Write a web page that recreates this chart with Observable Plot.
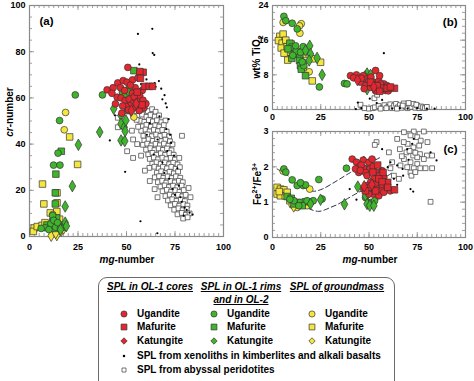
<!DOCTYPE html>
<html><head><meta charset="utf-8">
<script src="https://cdn.jsdelivr.net/npm/d3@7"></script>
<script src="https://cdn.jsdelivr.net/npm/@observablehq/plot@0.6"></script>
<style>
body{margin:0;background:#fff;font-family:'Liberation Sans',Arial,sans-serif;}
#wrap{position:relative;width:474px;height:381px;overflow:hidden;background:#fff;}
.lab{position:absolute;font-weight:bold;font-size:10px;white-space:nowrap;color:#000;line-height:1;}
.rot{transform:translate(-50%,-50%) rotate(-90deg);}
.ctr{transform:translate(-50%,-50%);}
.lab sub,.lab sup{font-size:7px;line-height:0;}
.hdr{font-style:italic;text-decoration:underline;}
#legend{position:absolute;left:98px;top:277px;width:297px;height:118px;border:1.3px solid #6b6b6b;border-radius:9px;box-sizing:border-box;}
svg.mk{position:absolute;overflow:visible;}
</style></head><body><div id="wrap"><div id="legend"></div></div>
<script>
// ---------------- tick labels ----------------
const xTicks = [0, 25, 50, 75, 100];
const aYTicks = [0, 20, 40, 60, 80, 100];
const bYTicks = [0, 8, 16, 24];
const cYTicks = [0, 1, 2, 3];

// ---------------- legend text ----------------
const groupTitles = ["SPL in OL-1 cores", "SPL in OL-1 rims", "SPL of groundmass"];
const rockNames = ["Ugandite", "Mafurite", "Katungite"];
const otherNames = ["SPL from xenoliths in kimberlites and alkali basalts", "SPL from abyssal peridotites"];

// ---------------- panel (a): mg-number vs cr-number ----------------
const a_coreUg = [[50.7,73.2],[40,63.5],[43.1,64.4],[45.5,66.5],[48.3,67.5],[50.3,66.8],[53.1,67.8],[55.9,68.7],[46.9,64.4],[49,63.2],[54.5,64.4],[58.1,63.2],[52,65.5],[45.2,60.3],[47.2,60],[49.3,58.9],[51.4,59.5],[53.4,57.7],[55.5,58.9],[57.2,56.3],[59,55.7],[53.8,55.7],[51.7,56.6],[47.6,53.4],[49.7,56.3],[44.3,57.4],[56.6,54.5],[60,57.5],[42.5,62],[56.8,61],[53,62],[48,56.5],[54,60.5],[58.5,59],[51,54.8]];
const a_coreMa = [[58.6,71.1],[56.9,71.4],[57.2,68.5],[59.3,65],[61.7,65],[63.4,65],[55.5,62.5],[58,57]];
const a_coreKa = [[55,57.5],[52.5,54.5]];
const a_rimUg = [[23.6,61.3],[37.6,61.3],[15.5,50.2],[14.7,36.1],[12.4,30.9],[15.7,30.9],[11.9,9.1],[47.9,62.5],[49.5,61.5],[51.2,62.5],[8,3.8],[11,5.5],[13.5,4],[16,3.8],[6,3.5],[10,3],[12.5,7],[14.5,6]];
const a_rimMa = [[16.4,36.9],[13.6,27],[13.3,18.9],[13.3,14.1],[53.8,71.8],[51.6,58.9],[50.7,54.5],[51.5,63.8],[10.5,4],[13,3.5],[15,5],[12,6.5],[9,5],[14,8],[17,4]];
const a_rimKa = [[25.2,39.7],[22.1,21.8],[18.4,13],[18.4,6],[43.4,55.3],[47.2,52.4],[47.2,48.8],[48.8,47.3],[49.7,50.2],[36.2,45.2],[47.2,41.6],[49.1,41.3],[49.3,45.6],[16,3],[19,4.5]];
const a_gmUg = [[18.6,53.7],[17.9,46.2],[53.8,51.7],[12,9.5],[16,2.5]];
const a_gmMa = [[20.7,43.1],[24.8,31.2],[6.7,22.7],[7.4,14.1],[14.2,18.9],[14.2,14.6],[10.7,10.2],[14.1,10.8],[2.4,3.7],[2,2.2],[4,4.3],[6.5,4.8],[8,6],[12,5],[15.5,7.5]];
const a_gmKa = [[11.2,0.3],[14.1,0.6],[16.4,2.6],[17.6,3.5],[13.5,1.5]];
const a_xeno = [[55.9,87.7],[63.3,89.9],[63.5,79.4],[64.3,78.6],[56.6,74.5],[60.3,68],[64.5,66.4],[66.7,67.3],[65,64.8],[67.9,64],[69.6,61.2],[68.5,59.4],[70.2,57.6],[70.8,55.9],[71.7,50.8],[41.4,41.6],[49.3,28],[57.2,6.6],[65.9,1.4],[67,52],[70.5,46.5],[72.5,44],[73,40.5],[71,37],[74.5,35],[68.5,32],[76.2,29.5],[72,25],[77,22],[75,18],[78.5,15],[80,12.5],[81,11.5],[82.5,10.3],[84.1,9.5],[79.5,9],[62,49],[60.5,44],[66,42],[64,35.5],[69.5,27.5],[73.8,20.5],[77.8,17],[44,52.5],[57.5,66],[61.5,65.8]];
const a_aby = [[56.5,54.6],[58.8,55.2],[61,54.3],[63.2,55.1],[65,54],
[55.8,52.2],[58,52.8],[60.3,51.8],[62.4,52.6],[64.6,51.9],[66.8,52.4],
[57,50.1],[59.2,49.6],[61.5,50.4],[63.6,49.8],[65.7,50.3],[68,49.5],[70.1,50.2],
[58.1,47.7],[60.3,48.3],[62.6,47.5],[64.8,48.1],[66.9,47.6],[69.2,48.2],
[57.6,45.8],[59.8,46.3],[61.9,45.5],[64.1,46.2],[66.2,45.6],[68.5,46.1],[70.7,45.4],
[58.7,43.6],[60.9,44.2],[63.1,43.4],[65.3,44.1],[67.4,43.5],[69.6,44],[72,43.3],
[59.2,41.5],[61.4,42.1],[63.5,41.4],[65.8,42],[68,41.3],[70.1,41.9],[72.4,41.2],
[58.5,39.7],[60.7,40.2],[62.8,39.4],[65,40.1],[67.2,39.5],[69.3,40.2],[71.6,39.3],[73.7,39.9],
[60.1,37.6],[62.3,38.2],[64.4,37.4],[66.6,38.1],[68.8,37.5],[70.9,38.1],[73.2,37.3],
[61.2,35.5],[63.4,36.2],[65.5,35.4],[67.7,36],[69.9,35.3],[72.1,36.1],[74.3,35.4],
[62,33.6],[64.1,34.2],[66.3,33.4],[68.5,34.1],[70.6,33.5],[72.8,34],[75,33.3],[77.2,34],
[63.3,31.5],[65.5,32.1],[67.6,31.4],[69.8,32],[72,31.3],[74.1,31.9],[76.3,31.2],
[61.8,29.7],[64.4,30.2],[66.6,29.4],[68.8,30.1],[70.9,29.5],[73.1,30.1],[75.3,29.3],[77.5,30],
[65.7,27.6],[67.9,28.2],[70.1,27.4],[72.2,28],[74.4,27.3],[76.6,28.1],
[64.6,25.6],[66.8,26.1],[69,25.4],[71.2,26],[73.3,25.3],[75.5,26],[77.7,25.4],
[66.2,23.5],[68.4,24.1],[70.5,23.3],[72.7,24],[74.9,23.4],[77,24.1],[79,23.5],
[67.5,21.6],[69.7,22.1],[71.9,21.4],[74,22],[76.2,21.3],[78.4,22],
[68.6,19.6],[70.8,20.2],[73,19.4],[75.1,20],[77.3,19.3],[79.5,20.1],
[70.1,17.5],[72.3,18.1],[74.4,17.3],[76.6,18],[78.8,17.4],[80.5,18],
[71.4,15.6],[73.6,16.1],[75.8,15.4],[78,16],[80.1,15.3],
[72.8,13.5],[75,14.1],[77.2,13.3],[79.3,14],[81.4,13.4],
[74.6,11.6],[76.8,12.2],[78.9,11.4],[81,12],
[76.3,9.6],[78.5,10.2],[80.6,9.4],[82.5,10],
[79.2,7.8],[81.5,8.3],
[45.5,51.4],[45.5,47.3],[52.8,45.8],[53.4,42],[50.3,36.9],[53.4,34],[78.6,43.6],[55.2,50.5],[53,53.5],[56,47.5],[55.5,40],[57.5,35],[59.5,28.5],[62,24],[64.5,20.5],[66,17],[83,17],[82,21]];

// ---------------- panel (b): mg-number vs wt% TiO2 ----------------
const b_coreUg = [[40.4,7.8],[43.5,8],[47,7.8],[48.7,7],[53.4,9],[45.6,6.3],[49.9,6.6],[52.5,6.3],[55.1,6.6],[48.2,5.5],[50.8,5.1],[54.3,4.9],[56.8,4.7],[57.7,5.9],[51.6,5.9],[56,5.9],[53.4,4.3],[59.4,5.5],[58.5,4.4],[42,7.3],[46,7.2],[51,7.5],[55.5,7.8],[47.5,4.8],[60,4.3]];
const b_coreMa = [[57.3,4.9],[59.4,4.9],[63.2,4.9],[61.1,5.2],[54.2,5.5],[50.8,6.3],[55.5,4.2]];
const b_coreKa = [[44,6.8],[52.5,5.2]];
const b_rimUg = [[5.9,21.5],[6.9,20.5],[10.2,19.9],[12.8,18.6],[15.9,14.5],[14.5,13.2],[16.2,10.1],[24.3,5.2],[15.4,11],[37.3,6],[38.6,5.9],[12,14.7],[10.5,12.5]];
const b_rimMa = [[9,15.3],[10.2,14.4],[8,14],[11.4,12.8],[14.2,12.3],[14,11.3],[14.5,10.1],[14.9,9.3],[17.1,7.8],[12.4,13.4],[10,11.8]];
const b_rimKa = [[19.3,14.7],[17.1,13.6],[19.7,12.8],[23.1,11.9],[25.7,8],[19,11.3],[49,4.7],[49,8.3],[50.8,8],[47.8,7.6]];
const b_gmUg = [[5.5,20.1],[14.9,19.8],[14.2,17.6],[19,8.7],[15.9,10.9],[16.2,9.7],[14,19.3]];
const b_gmMa = [[3.8,16.9],[5.5,17.4],[3.1,15.9],[5,15.3],[4.5,14.2],[6.9,16],[7.6,14.5],[8.5,13.2],[9.7,15.1],[10.2,13.6],[7.9,11.4],[16.2,12.7],[20.6,11.7],[24.9,10.9],[20.6,6.6],[6,13]];
const b_gmKa = [];
const b_xeno = [[57.7,13],[44.2,1.6],[43.2,0.1],[50.4,2.5],[56.8,2.2],[62,0.2],[66,0.3],[70,0.2],[75,0.3],[80,0.2],[84,0.2],[46,0.3],[54,1.5]];
const b_aby = [[45.6,1.1],[52.8,2.6],[54.2,3.4],[47.7,0.3],[50,0.2],[52,0.3],[53,0.5],[55,0.8],[57,0.4],[58,1],[60,0.6],[61,1.2],[62,0.3],[63,0.9],[64,1.3],[65,0.5],[66,1],[67,0.4],[68,1.4],[69,0.7],[70,0.3],[71,1.1],[72,0.6],[73,1.3],[74,0.4],[75,0.9],[76,0.3],[77,0.7],[78,0.5],[79,0.3],[80,0.6],[56,0.2],[59,0.3],[64.5,0.2],[67.5,0.9],[70.5,1.5],[74.5,1.1]];

// ---------------- panel (c): mg-number vs Fe2+/Fe3+ ----------------
const c_coreUg = [[41.3,2.22],[43.5,2.13],[47,2.19],[44.7,1.99],[47.3,1.96],[49.9,2.13],[50.4,1.94],[48.2,1.84],[44.7,1.84],[43,1.94],[51.6,2.22],[52.2,2.01],[49,1.75],[53.9,1.84],[56.8,1.89],[55.1,1.75],[57.7,1.7],[52.5,1.66],[56,1.6],[58.5,1.56],[50.8,1.56],[53.4,1.51],[49,1.47],[56.8,1.47],[59.4,1.42],[51.6,1.37],[54.2,1.37],[49,1.32],[56.8,1.32],[61,1.32],[47.3,1.37],[52.2,1.23],[49.9,1.23],[55.1,1.18],[57.7,1.28],[46,2.05],[45.5,1.9]];
const c_coreMa = [[57.3,1.84],[55.1,1.66],[59.7,1.56],[50.8,1.42],[63.2,1.35],[53.4,1.32],[56.8,1.58],[48.2,1.32],[59.7,1.42],[54.5,2.05],[52,1.85]];
const c_coreKa = [[47.5,1.45],[51.5,1.5]];
const c_rimUg = [[5.9,1.94],[6.9,1.85],[10.2,1.63],[12.8,1.47],[15.9,1.47],[17.1,1.49],[24,1.64],[11.1,1.04],[17.9,1.04],[25.7,1.09],[21.1,1.04],[13.6,0.9],[48.2,1.13],[49.5,1.23],[50.8,0.99],[52.9,1.04],[38.3,1.96],[14.5,1.55],[9,1.08]];
const c_rimMa = [[7.6,1.16],[9.7,1.11],[12.8,0.99],[14.5,0.99],[17.1,1.01],[11.1,0.95],[15.4,0.9],[51.5,1.35],[50.5,2.05]];
const c_rimKa = [[19.7,0.95],[24.9,1.07],[37.3,0.94],[44.2,1.44],[48.2,1.18],[49,0.95],[50.4,0.9],[52.5,0.9]];
const c_gmUg = [[19.3,1.37],[10.2,0.92],[12.8,0.85],[17.9,0.9],[19.7,0.99],[5.5,1.88]];
const c_gmMa = [[2.4,1.42],[4.1,1.37],[5.9,1.35],[2.4,1.23],[4.1,1.18],[6.6,1.18],[7.6,1.28],[9,1.04],[3.5,1.3]];
const c_gmKa = [[11,0.88]];
const c_xeno = [[47.3,2.27],[56.8,2.5],[59.7,1.99],[62.9,1.66],[61.1,2.13],[64.6,2.04],[67.4,1.94],[67.7,1.75],[71.5,1.37],[72.9,1.3],[85,2.18],[81.9,2.41],[69.8,2.5],[72.4,2.65],[43.5,1.07],[40,1.37],[58,1.44],[64.6,1.49],[73.2,2.79],[70.5,2.2]];
const c_aby = [[53.9,2.7],[53,2.62],[60.3,2.41],[61.1,1.96],[62,2.13],[64.6,2.79],[68.1,2.98],[73.2,3],[78.4,3],[71.5,2.89],[75,2.84],[76.8,2.74],[80.3,2.7],[66,2.5],[69.4,2.41],[72.9,2.32],[76.4,2.36],[80,2.32],[68.1,2.22],[71.5,2.13],[75,2.08],[78.4,2.22],[82.7,2.32],[66.3,2.04],[69.8,1.99],[73.2,1.96],[76.6,1.96],[79.3,1.96],[82.7,1.96],[71.5,1.84],[75,2.27],[81.9,1.01],[62.9,1.75],[65.5,1.66],[70,2.65],[73,2.55],[76,2.6],[68,2.7],[71,2.45],[74,2.4],[72,1.75],[74,1.85],[67,2.3]];
const c_upperCurve = [[2.4,1.94],[8,1.75],[12.8,1.56],[18,1.38],[21.4,1.31],[25.7,1.37],[33.5,1.61],[40.4,1.84],[47.3,2.03],[56,2.27]];
const c_lowerCurve = [[12,1.08],[15,0.92],[18,0.84],[21,0.77],[24,0.74],[27,0.78],[30,0.85],[33.5,0.93],[37,1.04],[42,1.2],[47,1.35],[52.5,1.53],[57,1.66],[62.9,1.86]];

// ---------------- styles ----------------
const RED = "#e6262e", GREEN = "#3fb52c", YEL = "#f4e63c";
const EDGE = "#333333", FRAME = "#8a8a8a";
const FONT = "'Liberation Sans', Arial, sans-serif";

function dataMarks(s) {
  const X = d => d[0], Y = d => d[1];
  const filled = (data, sym, fill) => Plot.dot(data, {x: X, y: Y, symbol: sym, r: sym === "circle" ? 3.4 : sym === "square" ? 3.7 : 3.5, fill, stroke: EDGE, strokeWidth: 0.7});
  return [
    Plot.dot(s.aby, {x: X, y: Y, symbol: "square", r: 2.7, fill: "white", stroke: "#505050", strokeWidth: 0.8}),
    Plot.dot(s.xeno, {x: X, y: Y, r: 1.1, fill: "black", stroke: "none"}),
    filled(s.gmMa, "square", YEL), filled(s.gmUg, "circle", YEL), filled(s.gmKa, "diamond", YEL),
    filled(s.rimMa, "square", GREEN), filled(s.rimUg, "circle", GREEN), filled(s.rimKa, "diamond", GREEN),
    filled(s.coreUg, "circle", RED), filled(s.coreMa, "square", RED), filled(s.coreKa, "diamond", RED)
  ];
}

function panel(o) {
  const iw = o.width - o.ml - o.mr, ih = o.height - o.mt - o.mb;
  const xMinor = d3.range(0, 100.01, 2.5);
  const yMinor = d3.range(o.ydom[0], o.ydom[1] + 1e-9, o.yMinorStep);
  const G = {stroke: FRAME, strokeWidth: 0.8};
  const marks = [
    Plot.ruleX(xMinor, {...G, insetTop: ih - 3}),
    Plot.ruleX(xMinor, {...G, insetBottom: ih - 3}),
    Plot.ruleX(xTicks, {...G, insetTop: ih - 5}),
    Plot.ruleX(xTicks, {...G, insetBottom: ih - 5}),
    Plot.ruleY(yMinor, {...G, insetRight: iw - 3}),
    Plot.ruleY(yMinor, {...G, insetLeft: iw - 3}),
    Plot.ruleY(o.yTicks, {...G, insetRight: iw - 5}),
    Plot.ruleY(o.yTicks, {...G, insetLeft: iw - 5}),
    Plot.frame({stroke: FRAME, strokeWidth: 1.2}),
    Plot.axisX(xTicks, {tickSize: 0, tickPadding: o.xpad, label: null}),
    Plot.axisY(o.yTicks, {tickSize: 0, tickPadding: 4, label: null}),
    ...(o.curves || []).map(c => Plot.line(c, {x: d => d[0], y: d => d[1], stroke: "#2c3245", strokeWidth: 1, strokeDasharray: "5,3", curve: "catmull-rom"})),
    ...dataMarks(o.series),
    Plot.text([o.tag], {frameAnchor: o.tagAnchor, dx: o.tagDx, dy: o.tagDy, fontSize: 11.5, fontWeight: "bold"})
  ];
  const svg = Plot.plot({
    width: o.width, height: o.height,
    marginLeft: o.ml, marginRight: o.mr, marginTop: o.mt, marginBottom: o.mb,
    x: {domain: [0, 100]}, y: {domain: o.ydom},
    style: {fontFamily: FONT, fontSize: "9px", fontWeight: "bold", background: "transparent", overflow: "visible", color: "#000"},
    marks
  });
  svg.style.position = "absolute";
  svg.style.left = o.left + "px";
  svg.style.top = o.top + "px";
  document.getElementById("wrap").appendChild(svg);
}

panel({left: 0, top: 0, width: 230, height: 254, ml: 29, mr: 7, mt: 5, mb: 18, ydom: [0, 100], yTicks: aYTicks, yMinorStep: 5, xpad: 7,
  tag: "(a)", tagAnchor: "top-left", tagDx: 10, tagDy: 11,
  series: {aby: a_aby, xeno: a_xeno, coreUg: a_coreUg, coreMa: a_coreMa, coreKa: a_coreKa, rimUg: a_rimUg, rimMa: a_rimMa, rimKa: a_rimKa, gmUg: a_gmUg, gmMa: a_gmMa, gmKa: a_gmKa}});
panel({left: 250, top: 0, width: 224, height: 123, ml: 22, mr: 9, mt: 5, mb: 14, ydom: [0, 24], yTicks: bYTicks, yMinorStep: 1.6, xpad: 4,
  tag: "(b)", tagAnchor: "top-right", tagDx: -8, tagDy: 12,
  series: {aby: b_aby, xeno: b_xeno, coreUg: b_coreUg, coreMa: b_coreMa, coreKa: b_coreKa, rimUg: b_rimUg, rimMa: b_rimMa, rimKa: b_rimKa, gmUg: b_gmUg, gmMa: b_gmMa, gmKa: b_gmKa}});
panel({left: 250, top: 126, width: 224, height: 129, ml: 22, mr: 9, mt: 5, mb: 18, ydom: [0, 3], yTicks: cYTicks, yMinorStep: 0.2, xpad: 6,
  tag: "(c)", tagAnchor: "top-right", tagDx: -8, tagDy: 13, curves: [c_upperCurve, c_lowerCurve],
  series: {aby: c_aby, xeno: c_xeno, coreUg: c_coreUg, coreMa: c_coreMa, coreKa: c_coreKa, rimUg: c_rimUg, rimMa: c_rimMa, rimKa: c_rimKa, gmUg: c_gmUg, gmMa: c_gmMa, gmKa: c_gmKa}});

// ---------------- axis titles ----------------
const wrap = document.getElementById("wrap");
function label(html, x, y, cls) {
  const d = document.createElement("div");
  d.className = "lab " + cls;
  d.style.left = x + "px"; d.style.top = y + "px";
  d.innerHTML = html;
  wrap.appendChild(d);
  return d;
}
label("<i>cr</i>-number", 10, 112, "rot");
label("wt% TiO<sub>2</sub>", 257, 57, "rot");
label("Fe<sup>2+</sup>/Fe<sup>3+</sup>", 258, 184, "rot");
label("<i>mg</i>-number", 127, 260, "ctr");
label("<i>mg</i>-number", 370, 260, "ctr");

// ---------------- legend ----------------
const colors = [RED, GREEN, YEL];
const headerX = [150, 241, 337];
groupTitles.forEach((t, i) => {
  label(t, headerX[i], 287, "ctr hdr");
});
label("and in OL-2", 241, 300, "ctr hdr");
const markerX = [124, 214, 312], textX = [137, 227, 325], rowY = [314, 327, 341];
const syms = [d3.symbolCircle, d3.symbolSquare, d3.symbolDiamond2];
const symSizes = [30, 34, 26];
function marker(cx, cy, sym, size, fill, stroke, sw) {
  const s = d3.select(wrap).append("svg").attr("class", "mk")
    .attr("width", 12).attr("height", 12)
    .style("left", (cx - 6) + "px").style("top", (cy - 6) + "px");
  s.append("path").attr("transform", "translate(6,6)")
    .attr("d", d3.symbol(sym, size)()).attr("fill", fill).attr("stroke", stroke).attr("stroke-width", sw);
}
colors.forEach((c, ci) => {
  rockNames.forEach((n, ri) => {
    marker(markerX[ci], rowY[ri], syms[ri], symSizes[ri], c, EDGE, 0.7);
    const d = label(n, textX[ci], rowY[ri], "");
    d.style.transform = "translateY(-50%)";
  });
});
marker(124, 356, d3.symbolCircle, 5, "black", "none", 0);
marker(124, 370, d3.symbolSquare, 16, "white", "#505050", 0.8);
otherNames.forEach((n, i) => {
  const d = label(n, 137, [356, 370][i], "");
  d.style.transform = "translateY(-50%)";
});
</script></body></html>
